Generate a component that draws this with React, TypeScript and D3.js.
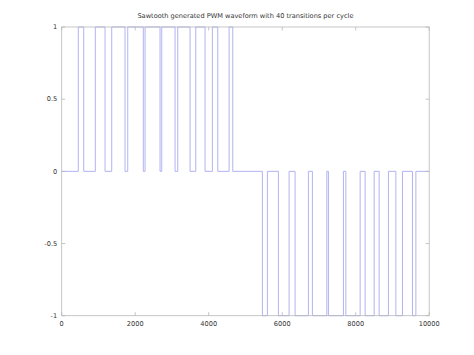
import React from "react";
import * as d3 from "d3";

// Positive half: edges where the signal rises 0 -> 1 and falls 1 -> 0
const posRise = [452, 915, 1361, 1797, 2268, 2722, 3158, 3648, 4100, 4555];
const posFall = [599, 1179, 1723, 2221, 2676, 3085, 3493, 3901, 4247, 4655];
// Negative half: edges where the signal drops 0 -> -1 and returns -1 -> 0
const negDrop = [5461, 5897, 6351, 6822, 7258, 7732, 8257, 8638, 9093, 9545];
const negRise = [5597, 6188, 6713, 7214, 7666, 8121, 8502, 8891, 9273, 9637];

const xTicks = [0, 2000, 4000, 6000, 8000, 10000];
const yTicks = [-1, -0.5, 0, 0.5, 1];
const title = "Sawtooth generated PWM waveform with 40 transitions per cycle";

const W = 474;
const H = 355;
const left = 61.7;
const right = 429.2;
const top = 27;
const bottom = 315.7;

export default function App() {
  const x = d3.scaleLinear().domain([0, 10000]).range([left, right]);
  const y = d3.scaleLinear().domain([-1, 1]).range([bottom, top]);

  const pts: [number, number][] = [[0, 0]];
  posRise.forEach((r, i) => {
    pts.push([r, 1]);
    pts.push([posFall[i], 0]);
  });
  negDrop.forEach((d, i) => {
    pts.push([d, -1]);
    pts.push([negRise[i], 0]);
  });
  pts.push([10000, 0]);

  const line = d3
    .line<[number, number]>()
    .x((d) => x(d[0]))
    .y((d) => y(d[1]))
    .curve(d3.curveStepAfter);

  const axisColor = "#b8b8b8";
  const textColor = "#333";
  const font = "DejaVu Sans, sans-serif";
  const tl = 3.5;

  return (
    <svg
      width={W}
      height={H}
      style={{ position: "absolute", left: 0, top: 0, background: "#fff" }}
    >
      <rect x={0} y={0} width={W} height={H} fill="#fff" />
      <text
        x={(left + right) / 2}
        y={17.5}
        textAnchor="middle"
        fontFamily={font}
        fontSize={6.6}
        fill={textColor}
      >
        {title}
      </text>
      <path
        d={line(pts) || ""}
        fill="none"
        stroke="#aaaaf2"
        strokeWidth={0.9}
      />
      <rect
        x={left}
        y={top}
        width={right - left}
        height={bottom - top}
        fill="none"
        stroke={axisColor}
        strokeWidth={0.8}
      />
      {xTicks.map((t) => (
        <g key={"x" + t}>
          <line x1={x(t)} x2={x(t)} y1={bottom} y2={bottom - tl} stroke={axisColor} strokeWidth={0.8} />
          <line x1={x(t)} x2={x(t)} y1={top} y2={top + tl} stroke={axisColor} strokeWidth={0.8} />
          <text
            x={x(t)}
            y={bottom + 10.5}
            textAnchor="middle"
            fontFamily={font}
            fontSize={6.6}
            fill={textColor}
          >
            {t}
          </text>
        </g>
      ))}
      {yTicks.map((t) => (
        <g key={"y" + t}>
          <line x1={left} x2={left + tl} y1={y(t)} y2={y(t)} stroke={axisColor} strokeWidth={0.8} />
          <line x1={right} x2={right - tl} y1={y(t)} y2={y(t)} stroke={axisColor} strokeWidth={0.8} />
          <text
            x={left - 4.5}
            y={y(t) + 2.3}
            textAnchor="end"
            fontFamily={font}
            fontSize={6.6}
            fill={textColor}
          >
            {t}
          </text>
        </g>
      ))}
    </svg>
  );
}
